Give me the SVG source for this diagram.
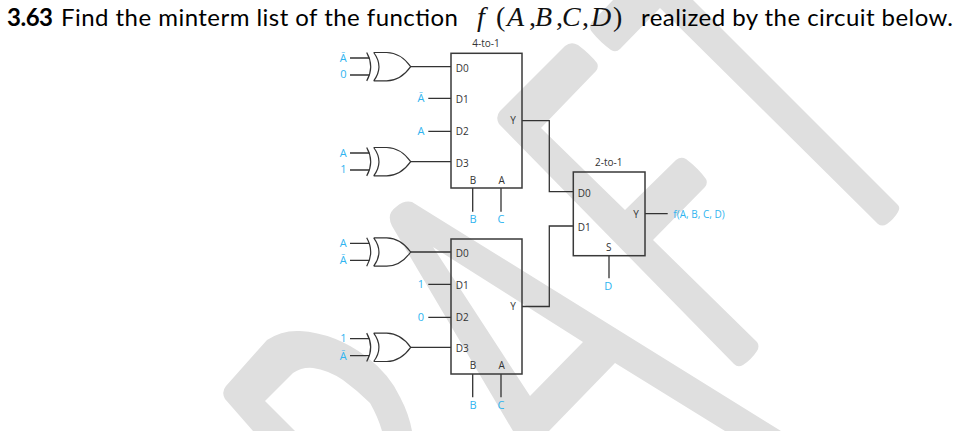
<svg xmlns="http://www.w3.org/2000/svg" width="957" height="431" viewBox="0 0 957 431">
<style>
.wm{fill:#dfdfdf;fill-rule:evenodd;stroke:none}
.w{fill:none;stroke:#333;stroke-width:1.3}
.box{fill:none;stroke:#3a3a3a;stroke-width:1.5}
.g{fill:none;stroke:#333;stroke-width:1.2}
text{font-family:"Open Sans","Noto Sans",sans-serif}
.t{font-size:10px;fill:#333}
.b{font-size:11px;fill:#2fb4f0}
.m{text-anchor:middle}
.h{font-family:"Lato","Liberation Sans",sans-serif;font-size:24px;fill:#000}
.f{font-family:"Liberation Serif",serif;font-size:28px;fill:#111}
.i{font-style:italic}
</style>
<defs>
<g id="xor">
<path class="g" d="M-4,-14.200 Q4,0 -4,14.200"/>
<path class="g" d="M3,-14.200 Q13.500,0 3,14.200 M3,-14.200 H16 Q30,-14 40,0 Q30,14 16,14.200 H3"/>
</g>
</defs>
<g id="watermark">
<path class="wm" d="M565,46 Q571,41 578,45 Q590,54 597,63 Q599,67 596,71 L541,128 L625,210 L676,160 Q681,156 686,159 Q698,168 706,179 Q708,183 705,187 L653,240 L757,342 Q760,346 757,351 Q751,360 743,365 Q738,368 734,364 L499,124 Q495,117 500,111 Z"/>
<path class="wm" d="M613,0 L592,22 Q588,27 592,32 Q600,42 611,50 Q616,53 620,49 L660,8 L878,224 Q882,227 887,224 Q894,219 898,212 Q901,207 897,204 L693,0 Z"/>
<path class="wm" d="M392,226 Q386,214 396,207 Q404,200 412,202 L781,431 L725,431 L615,363 L549,431 L513,431 Z M433,247 L530,396 L583,342 Z"/>
<path class="wm" d="M225,399 Q221,392 226,386 L267,340 Q282,330 300,331 Q335,333 367,357 Q390,375 400,397 Q409,414 412,431 L382,431 Q378,417 370,403 Q358,391 343,380 Q328,370 313,368 Q302,367 293,373 L265,401 L295,431 L253,431 Z"/>
</g>
<g id="title">
<text class="h" x="7" y="26" font-weight="700" textLength="46">3.63</text>
<text class="h" x="61" y="26" textLength="397">Find the minterm list of the function</text>
<text class="f"><tspan class="i" x="477" y="26">f</tspan><tspan x="496" y="26">(</tspan><tspan class="i" x="507" y="26">A</tspan><tspan x="529" y="26">,</tspan><tspan class="i" x="535" y="26">B</tspan><tspan x="556" y="26">,</tspan><tspan class="i" x="562" y="26">C</tspan><tspan x="582" y="26">,</tspan><tspan class="i" x="591" y="26">D</tspan><tspan x="613" y="26">)</tspan></text>
<text class="h" x="641" y="26" textLength="312">realized by the circuit below.</text>
</g>
<g id="connectors">
<path class="w" d="M350,58H369.500M350,75H369.500M410.500,66.700H451"/>
<path class="w" d="M350,153H369.500M350,170H369.500M410.500,161.700H451"/>
<path class="w" d="M350,243.300H369.500M350,260.300H369.500M410.500,252H451"/>
<path class="w" d="M350,338.600H369.500M350,355.600H369.500M410.500,347.300H451"/>
<path class="w" d="M428.300,98.300H451M428.300,131.300H451M428.300,284.300H451M428.300,317.300H451"/>
<path class="w" d="M472.700,188V211.700M501,188V211.700M472.700,374V397.300M501,374V397.300"/>
<path class="w" d="M522,120.700H549.300V191.700H573.300"/>
<path class="w" d="M522,306.500H549.300V226H573.300"/>
<path class="w" d="M645,213.700H667.700M609,255.700V278.300"/>
</g>
<g id="xor1"><use href="#xor" x="370.700" y="66.700"/><text class="b m" x="343.300" y="62.300">Ā</text><text class="b m" x="343.300" y="78.300">0</text></g>
<g id="xor2"><use href="#xor" x="370.700" y="161.700"/><text class="b m" x="343.300" y="157.300">A</text><text class="b m" x="343.300" y="173.300">1</text></g>
<g id="xor3"><use href="#xor" x="370.700" y="252"/><text class="b m" x="343.300" y="247.300">A</text><text class="b m" x="343.300" y="264.300">Ā</text></g>
<g id="xor4"><use href="#xor" x="370.700" y="347.300"/><text class="b m" x="343.300" y="342.300">1</text><text class="b m" x="343.300" y="359.600">Ā</text></g>
<g id="mux-top">
<rect class="box" x="451" y="53.300" width="71" height="134.700"/>
<text class="t m" x="486" y="47">4-to-1</text>
<text class="t" x="455.700" y="71.700">D0</text><text class="t" x="455.700" y="102.700">D1</text><text class="t" x="455.700" y="135.300">D2</text><text class="t" x="455.700" y="166.700">D3</text>
<text class="t m" x="513" y="124.300">Y</text><text class="t m" x="473" y="184">B</text><text class="t m" x="501.700" y="184">A</text>
<text class="b m" x="421" y="102.300">Ā</text><text class="b m" x="421" y="135.300">A</text>
<text class="b m" x="473" y="223.300">B</text><text class="b m" x="501" y="223.300">C</text>
</g>
<g id="mux-bottom">
<rect class="box" x="451" y="239" width="71" height="135"/>
<text class="t" x="455.700" y="257.300">D0</text><text class="t" x="455.700" y="289">D1</text><text class="t" x="455.700" y="321">D2</text><text class="t" x="455.700" y="352">D3</text>
<text class="t m" x="513" y="310">Y</text><text class="t m" x="473" y="369.300">B</text><text class="t m" x="501.700" y="369.300">A</text>
<text class="b m" x="421" y="287.700">1</text><text class="b m" x="421" y="321">0</text>
<text class="b m" x="473" y="409">B</text><text class="b m" x="501" y="409">C</text>
</g>
<g id="mux-output">
<rect class="box" x="573.300" y="172" width="71.700" height="83.700"/>
<text class="t m" x="608.700" y="165.700">2-to-1</text>
<text class="t" x="577.700" y="197">D0</text><text class="t" x="577.700" y="231.300">D1</text>
<text class="t m" x="636" y="217.700">Y</text><text class="t m" x="608.700" y="251.300">S</text>
<text class="b m" x="608.300" y="290">D</text>
<text class="b" x="673.300" y="217.700" style="font-size:10px" textLength="51.400">f(A, B, C, D)</text>
</g>
</svg>
